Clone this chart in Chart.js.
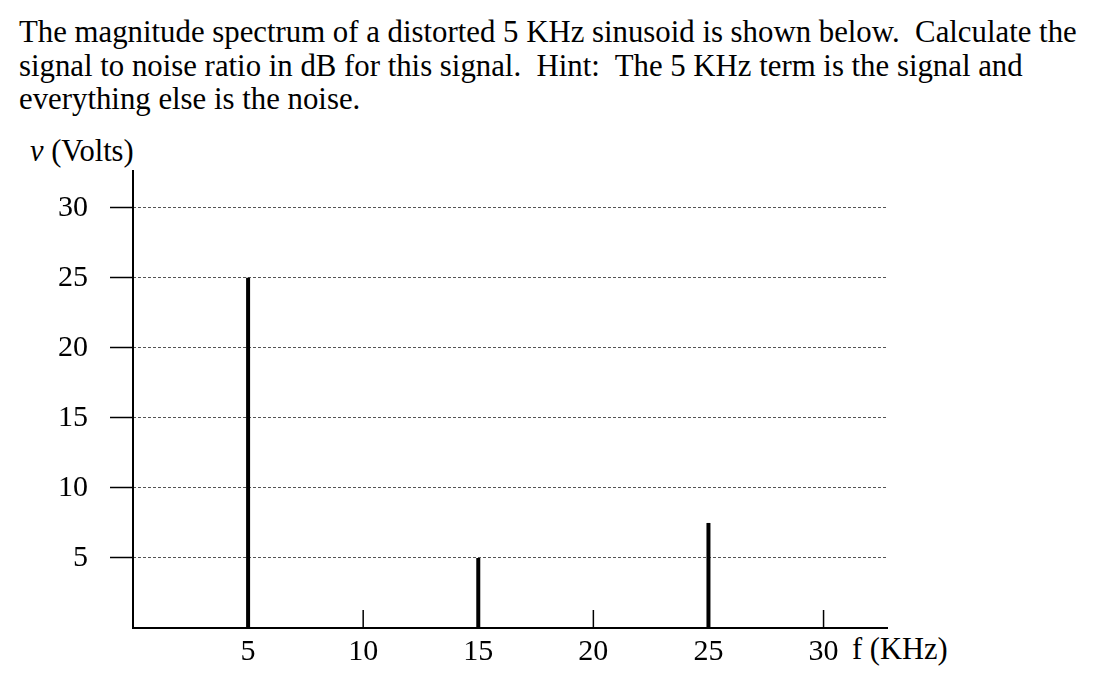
<!DOCTYPE html>
<html><head><meta charset="utf-8">
<script src="https://cdn.jsdelivr.net/npm/chart.js@4"></script>
<style>
body{margin:0;background:#fff;width:1111px;height:700px;overflow:hidden;font-family:"Liberation Serif","Times New Roman",serif;}
#q{position:absolute;left:19px;top:16px;font-size:30.8px;line-height:33.5px;color:#000;width:1100px;white-space:nowrap;}
#yl{position:absolute;left:30px;top:134px;font-size:30.5px;}
#xl{position:absolute;left:852px;top:632px;font-size:30.5px;}
canvas{position:absolute;left:0;top:0;}
</style></head><body>
<div id="q">The magnitude spectrum of a distorted 5 KHz sinusoid is shown below.&nbsp; Calculate the<br>signal to noise ratio in dB for this signal.&nbsp; Hint:&nbsp; The 5 KHz term is the signal and<br>everything else is the noise.</div>
<div id="yl"><i>v</i> (Volts)</div>
<div id="xl">f (KHz)</div>
<canvas id="c" width="1111" height="700"></canvas>
<script>
const freqs=[5,15,25];
const mags=[25,5,7.5];
const yTicks=[5,10,15,20,25,30];
const xTicks=[5,10,15,20,25,30];
const datasets=freqs.map((f,i)=>({data:[{x:f,y:0},{x:f,y:mags[i]}],borderColor:'#000',borderWidth:4,pointRadius:0,showLine:true}));
const axesPlugin={id:'axes',afterDraw(ch){const c=ch.ctx,a=ch.chartArea,xs=ch.scales.x;c.save();c.strokeStyle='#000';c.lineWidth=2;c.beginPath();c.moveTo(a.left,a.top);c.lineTo(a.left,a.bottom);c.lineTo(a.right,a.bottom);c.stroke();c.lineWidth=1.5;xTicks.forEach(v=>{const p=xs.getPixelForValue(v);c.beginPath();c.moveTo(p,a.bottom);c.lineTo(p,a.bottom-18);c.stroke();});c.restore();}};
new Chart(document.getElementById('c'),{type:'scatter',data:{datasets},plugins:[axesPlugin],
options:{responsive:false,animation:false,events:[],layout:{padding:{left:0,top:170,right:223,bottom:0}},
plugins:{legend:{display:false},tooltip:{enabled:false}},
scales:{
x:{type:'linear',min:0,max:32.8,afterBuildTicks:s=>{s.ticks=xTicks.map(v=>({value:v}));},afterFit:s=>{s.height=72;},
grid:{display:false,drawTicks:false},border:{display:false},
ticks:{color:'#000',padding:6,font:{family:'Liberation Serif',size:30},maxRotation:0,autoSkip:false}},
y:{min:0,max:32.7,afterBuildTicks:s=>{s.ticks=yTicks.map(v=>({value:v}));},afterFit:s=>{s.width=133;},
grid:{color:'#555',lineWidth:1,tickLength:23,tickColor:'#000',tickBorderDash:[],tickWidth:1.5},border:{display:false,dash:[3,2]},
ticks:{color:'#000',padding:22,font:{family:'Liberation Serif',size:30}}}}}});
</script></body></html>
